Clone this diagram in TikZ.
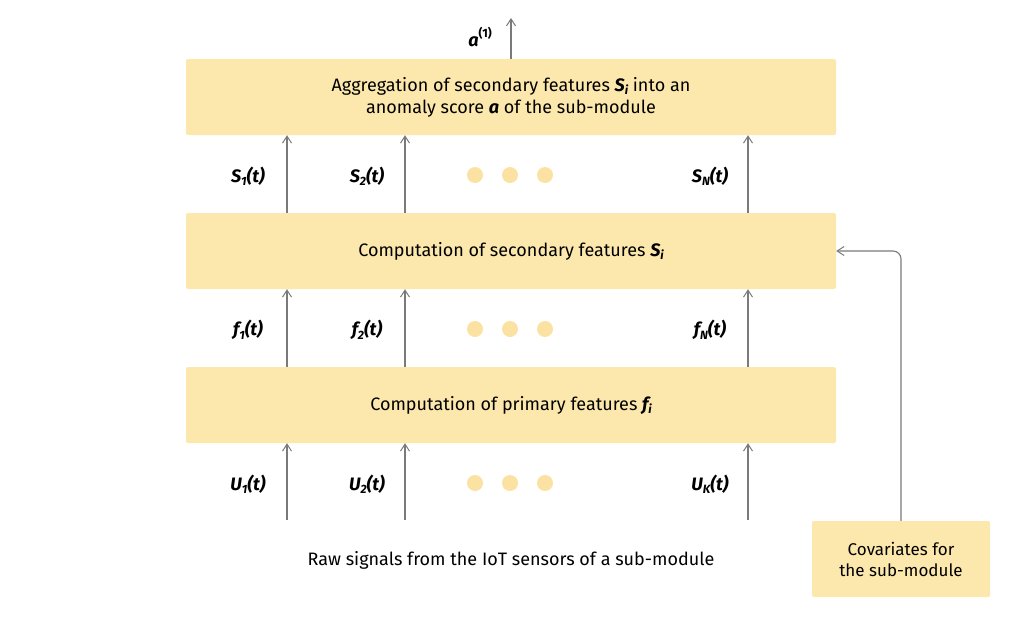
\documentclass[tikz,border=0pt]{standalone}
\usepackage{fontspec}
\setmainfont{Fira Sans}
\usetikzlibrary{arrows.meta}
\definecolor{boxy}{HTML}{FCE8AC}
\definecolor{doty}{HTML}{FBE2A2}
\definecolor{arr}{HTML}{7A7A7A}
\newcommand{\sub}[1]{\raisebox{-0.35ex}{\fontsize{12}{12}\selectfont #1}}
\newcommand{\lab}[2]{\textbf{\textit{#1\sub{#2}(t)}}}
\begin{document}
\begin{tikzpicture}[x=1pt,y=-1pt,
  box/.style={fill=boxy,draw=none,rounded corners=2pt,align=center,font=\fontsize{18}{22}\selectfont},
  ar/.style={draw=arr,line width=1.1pt,-{Straight Barb[length=7pt,width=9pt,line width=1pt]}},
  lb/.style={font=\fontsize{18}{22}\selectfont,anchor=center},
  dt/.style={fill=doty,draw=none,circle,minimum size=16pt,inner sep=0pt}]
\useasboundingbox (0,0) rectangle (1024,632);
\node[box,minimum width=650pt,minimum height=76pt] (top) at (511,97) {Aggregation of secondary features \textbf{\textit{S\sub{i}}} into an\\anomaly score \textbf{\textit{a}} of the sub-module};
\node[box,minimum width=650pt,minimum height=76pt] (mid) at (511,251) {Computation of secondary features \textbf{\textit{S\sub{i}}}};
\node[box,minimum width=650pt,minimum height=76pt] (bot) at (511,405) {Computation of primary features \textbf{\textit{f\sub{i}}}};
\node[box,minimum width=178pt,minimum height=76pt,font=\fontsize{17}{21}\selectfont] (cov) at (901,559) {Covariates for\\the sub-module};
\node[font=\fontsize{18}{22}\selectfont] (raw) at (511,560) {Raw signals from the IoT sensors of a sub-module};
\foreach \x/\n in {287/a,405/b,748/c}{
  \coordinate (s\n) at (\x,520);
  \draw[ar] (s\n) -- (bot.south -| s\n);
  \draw[ar] (bot.north -| s\n) -- (mid.south -| s\n);
  \draw[ar] (mid.north -| s\n) -- (top.south -| s\n);
}
\coordinate (out) at (511,18);
\draw[ar] (top.north -| out) -- (out);
\node[lb] (oa) at (480,37) {\textbf{\textit{a}}\raisebox{0.9ex}{\fontsize{12}{12}\selectfont\textbf{(1)}}};
\node[lb] (u1) at (248,484) {\lab{U}{1}};
\node[lb] (u2) at (367,484) {\lab{U}{2}};
\node[lb] (uk) at (710,484) {\lab{U}{K}};
\node[lb] (f1) at (248,330) {\lab{f}{1}};
\node[lb] (f2) at (367,330) {\lab{f}{2}};
\node[lb] (fn) at (710,330) {\lab{f}{N}};
\node[lb] (S1) at (248,176) {\lab{S}{1}};
\node[lb] (S2) at (367,176) {\lab{S}{2}};
\node[lb] (SN) at (710,176) {\lab{S}{N}};
\foreach \y/\r in {175/a,329/b,483/c}{
  \node[dt] (d1\r) at (475,\y) {};
  \node[dt] (d2\r) at (510,\y) {};
  \node[dt] (d3\r) at (545,\y) {};
}
\draw[ar,rounded corners=8pt] (cov.north) -- (901,251) -- (mid.east);
\end{tikzpicture}
\end{document}
